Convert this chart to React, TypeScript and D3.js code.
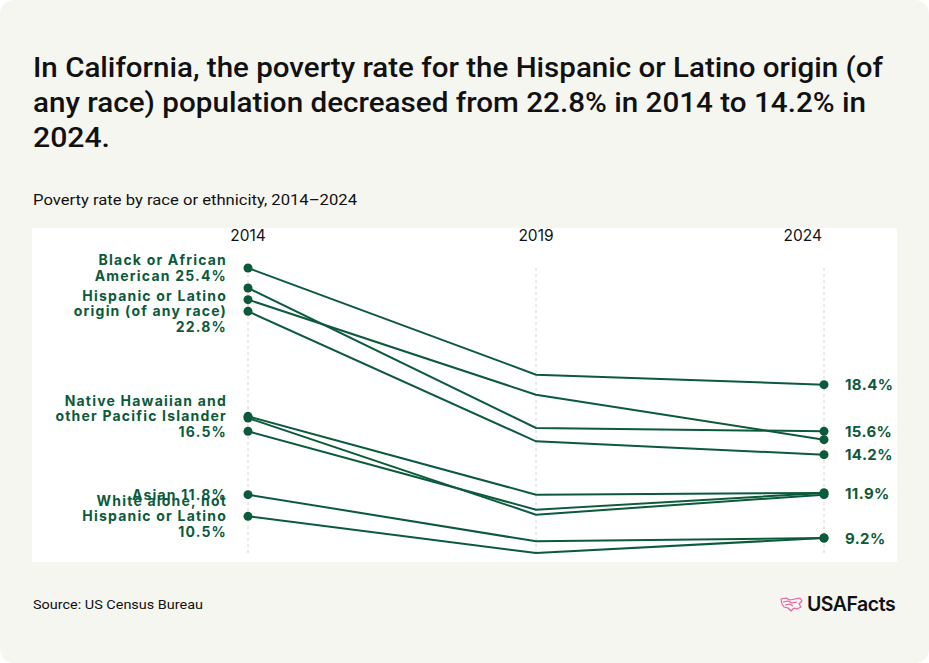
import React from 'react';
import * as d3 from 'd3';

// years on the x axis
const years = [2014, 2019, 2024];

// poverty rate (%) per group, one value per year
const blackRates = [25.4, 19.0, 18.4];
const someOtherRaceRates = [24.2, 15.8, 15.6];
const aianRates = [23.5, 17.8, 15.1];
const hispanicRates = [22.8, 15.0, 14.2];
const nhpiRates = [16.5, 11.8, 11.9];
const whiteAloneRates = [16.4, 10.6, 11.8];
const twoOrMoreRates = [15.6, 10.9, 11.9];
const asianRates = [11.8, 9.0, 9.2];
const whiteNonHispRates = [10.5, 8.3, 9.2];

const groupNames = [
  'Black or African American',
  'Some other race',
  'American Indian and Alaska Native',
  'Hispanic or Latino origin (of any race)',
  'Native Hawaiian and other Pacific Islander',
  'White alone',
  'Two or more races',
  'Asian',
  'White alone, not Hispanic or Latino',
];
const groupRates = [
  blackRates, someOtherRaceRates, aianRates, hispanicRates, nhpiRates,
  whiteAloneRates, twoOrMoreRates, asianRates, whiteNonHispRates,
];

// left-hand label lines (value gets appended to the last line)
const startLabels: Record<string, string[]> = {
  'Black or African American': ['Black or African', 'American'],
  'Hispanic or Latino origin (of any race)': ['Hispanic or Latino', 'origin (of any race)', ''],
  'Native Hawaiian and other Pacific Islander': ['Native Hawaiian and', 'other Pacific Islander', ''],
  'Asian': ['Asian'],
  'White alone, not Hispanic or Latino': ['White alone, not', 'Hispanic or Latino', ''],
};
// groups whose 2024 value is printed on the right
const endLabelGroups = [
  'Black or African American',
  'Some other race',
  'Hispanic or Latino origin (of any race)',
  'Native Hawaiian and other Pacific Islander',
  'Asian',
];

const titleLines = [
  'In California, the poverty rate for the Hispanic or Latino origin (of',
  'any race) population decreased from 22.8% in 2014 to 14.2% in',
  '2024.',
];

const W = 929;
const H = 663;
const GREEN = '#0b5a3b';
const labelFont = 'Inter, "DejaVu Sans", sans-serif';
const titleFont = 'Roboto, "Liberation Sans", sans-serif';

function App() {
  const series = groupNames.map((name, i) => ({
    name,
    values: years.map((year, j) => ({ year, value: groupRates[i][j] })),
  }));

  const allValues = groupRates.flat();
  const x = d3.scaleLinear().domain(d3.extent(years) as [number, number]).range([248, 824]);
  const y = d3.scaleLinear().domain(d3.extent(allValues) as [number, number]).range([553, 268]);

  const line = d3.line<{ year: number; value: number }>()
    .x(d => x(d.year))
    .y(d => y(d.value));

  const fmt = (v: number) => `${v.toFixed(1)}%`;
  const lineH = 15.5;

  return (
    <svg width={W} height={H} style={{ position: 'absolute', left: 0, top: 0 }}>
      <rect x={0} y={0} width={W} height={H} fill="#ffffff" />
      <rect x={0} y={0} width={W} height={H} rx={14} fill="#f6f6f1" />

      {/* heading */}
      {titleLines.map((t, i) => (
        <text key={i} x={33} y={77 + i * 35} fontFamily={titleFont} fontWeight={500}
          fontSize={28} fill="#111" textLength={[850, 833, 77][i]} lengthAdjust="spacingAndGlyphs">
          {t}
        </text>
      ))}
      <text x={33} y={205} fontFamily={titleFont} fontSize={14} fill="#111"
        textLength={324} lengthAdjust="spacingAndGlyphs">
        Poverty rate by race or ethnicity, 2014–2024
      </text>

      {/* plot panel */}
      <rect x={32} y={228} width={865} height={334} fill="#ffffff" />

      {years.map((yr, i) => {
        const last = i === years.length - 1;
        return (
          <g key={yr}>
            <line x1={x(yr)} x2={x(yr)} y1={y.range()[1]} y2={y.range()[0]}
              stroke="#d4d4d4" strokeDasharray="3,3" />
            <text x={last ? x(yr) - 2 : x(yr)} y={241} textAnchor={last ? 'end' : 'middle'}
              fontFamily={labelFont} fontSize={15.5} fill="#111">{yr}</text>
          </g>
        );
      })}

      {series.map(s => (
        <path key={s.name} d={line(s.values) || ''} fill="none" stroke={GREEN} strokeWidth={2} />
      ))}

      {series.map(s => (
        <g key={s.name + '-dots'}>
          <circle cx={x(years[0])} cy={y(s.values[0].value)} r={4.5} fill={GREEN} />
          <circle cx={x(years[2])} cy={y(s.values[2].value)} r={4.5} fill={GREEN} />
        </g>
      ))}

      {/* start labels */}
      {series.filter(s => startLabels[s.name]).map(s => {
        const parts = startLabels[s.name].slice();
        const v = fmt(s.values[0].value);
        const last = parts.length - 1;
        parts[last] = parts[last] ? `${parts[last]} ${v}` : v;
        const cy = y(s.values[0].value);
        const top = cy - ((parts.length - 1) * lineH) / 2;
        return (
          <text key={s.name + '-start'} textAnchor="end" fontFamily={labelFont} fontWeight={700}
            fontSize={14} letterSpacing={1.2} fill={GREEN}>
            {parts.map((p, i) => (
              <tspan key={i} x={227} y={top + i * lineH + 5}>{p}</tspan>
            ))}
          </text>
        );
      })}

      {/* end labels */}
      {series.filter(s => endLabelGroups.includes(s.name)).map(s => (
        <text key={s.name + '-end'} x={845} y={y(s.values[2].value) + 5.5} fontFamily={labelFont}
          fontWeight={700} fontSize={15} letterSpacing={0.4} fill={GREEN}>
          {fmt(s.values[2].value)}
        </text>
      ))}

      {/* footer */}
      <text x={33} y={609} fontFamily={titleFont} fontSize={13} fill="#111"
        textLength={170} lengthAdjust="spacingAndGlyphs">
        Source: US Census Bureau
      </text>
      <g fill="none" stroke="#ea5a9e" strokeWidth={1.1} strokeLinejoin="round">
        <path d="M781,599 L786,598 L790,600 L795,599 L800,598 L802,601 L799,604 L801,607 L797,609 L794,608 L791,611 L788,608 L784,607 L782,604 Z" />
        <path d="M783,602 L788,601 L792,603 L797,602" />
        <path d="M785,605 L790,604 L793,606" />
      </g>
      <text x={807} y={611} fontFamily={labelFont} fontWeight={600} fontSize={19.5}
        letterSpacing={-0.5} fill="#111">USAFacts</text>
    </svg>
  );
}

export default App;
